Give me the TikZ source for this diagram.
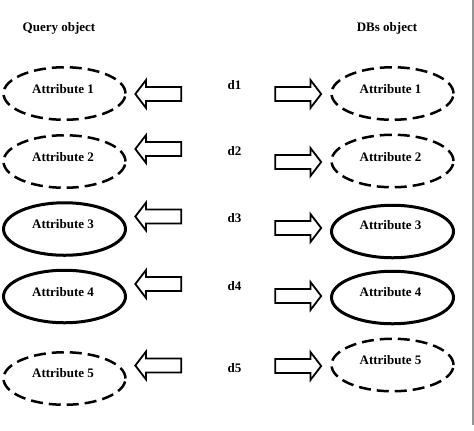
\documentclass[tikz,border=0pt]{standalone}
\usepackage{fontspec}
\setmainfont{Liberation Serif}
\usetikzlibrary{shapes.geometric,shapes.arrows}
\begin{document}
\begin{tikzpicture}[x=1bp,y=-1bp,
  lbl/.style={font=\fontsize{13bp}{15bp}\selectfont\bfseries, inner sep=0pt},
  attr/.style={ellipse, draw, inner sep=0pt, minimum width=122bp, minimum height=52.5bp},
  dashattr/.style={attr, line width=2.5bp, dash pattern=on 12bp off 6bp},
  solidattr/.style={attr, line width=3bp},
  blockarrow/.style={single arrow, draw, line width=1.8bp, inner xsep=0pt, inner ysep=6.1bp,
    single arrow head extend=7bp, single arrow tip angle=105, minimum height=46bp},
  larrow/.style={blockarrow, shape border rotate=180},
  rarrow/.style={blockarrow}
]
\useasboundingbox (0,0) rectangle (474,430);
\fill[black!42] (471.8,0) rectangle (474,425);

\node[lbl] (qo) at (59,28) {Query object};
\node[lbl] (dbo) at (387,28) {DBs object};

% left ellipses
\node[dashattr] (l1) at (64.5,93.5) {};
\node[dashattr] (l2) at (64.5,161.5) {};
\node[solidattr] (l3) at (64.5,229) {};
\node[solidattr] (l4) at (64.5,296.5) {};
\node[dashattr] (l5) at (64.5,378.5) {};
\node[lbl] (lt1) at (63,89) {Attribute 1};
\node[lbl] (lt2) at (63,157) {Attribute 2};
\node[lbl] (lt3) at (63,224.5) {Attribute 3};
\node[lbl] (lt4) at (63,292) {Attribute 4};
\node[lbl] (lt5) at (63,373.5) {Attribute 5};

% right ellipses
\node[dashattr] (r1) at (392.5,93.5) {};
\node[dashattr] (r2) at (392.5,161) {};
\node[solidattr] (r3) at (392.5,231.5) {};
\node[solidattr] (r4) at (392.5,297.5) {};
\node[dashattr] (r5) at (392.5,365) {};
\node[lbl] (rt1) at (390.5,89) {Attribute 1};
\node[lbl] (rt2) at (390.5,157) {Attribute 2};
\node[lbl] (rt3) at (390.5,225.5) {Attribute 3};
\node[lbl] (rt4) at (390.5,292) {Attribute 4};
\node[lbl] (rt5) at (390.5,360) {Attribute 5};

% distance labels
\node[lbl] (d1) at (234.5,85) {d1};
\node[lbl] (d2) at (234.5,151.5) {d2};
\node[lbl] (d3) at (234.5,218) {d3};
\node[lbl] (d4) at (234.5,286.5) {d4};
\node[lbl] (d5) at (234.5,368) {d5};

% left block arrows
\node[larrow] (la1) at (161,94) {};
\node[larrow] (la2) at (161,149) {};
\node[larrow] (la3) at (161,216.5) {};
\node[larrow] (la4) at (161,284) {};
\node[larrow] (la5) at (161,365.5) {};

% right block arrows
\node[rarrow] (ra1) at (295.5,94) {};
\node[rarrow] (ra2) at (295.5,162) {};
\node[rarrow] (ra3) at (295.5,228) {};
\node[rarrow] (ra4) at (295.5,296) {};
\node[rarrow] (ra5) at (295.5,366) {};
\end{tikzpicture}
\end{document}
